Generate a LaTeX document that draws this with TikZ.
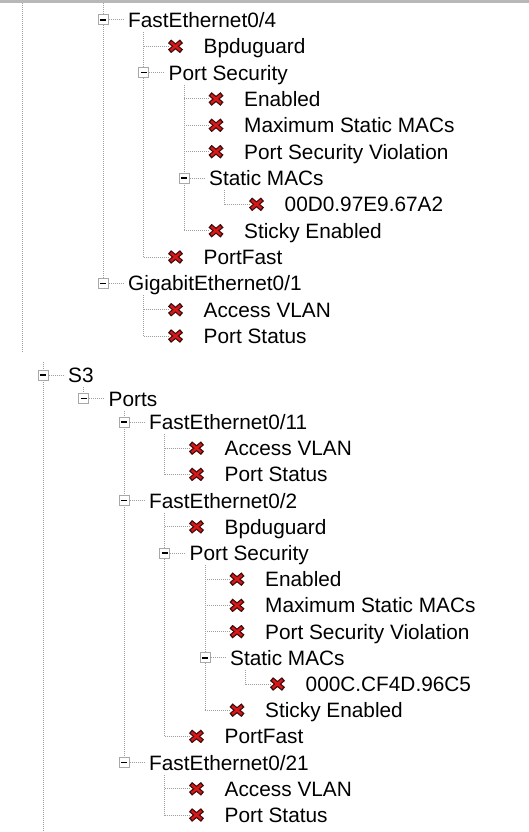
\documentclass[tikz,border=0pt]{standalone}
\usepackage{fontspec}
\setmainfont{Liberation Sans}
\definecolor{lncol}{HTML}{A0A0A0}
\definecolor{boxcol}{HTML}{A8A8A8}
\definecolor{xred}{HTML}{D81818}
\definecolor{xdark}{HTML}{3C0C0C}
\definecolor{barcol}{HTML}{B8B8B8}
\pgfdeclarelayer{back}
\pgfdeclarelayer{bg}
\pgfsetlayers{back,bg,main}
\tikzset{
  tline/.style={draw=lncol, line width=1pt, dash pattern=on 1pt off 1pt},
  tbox/.style={rectangle, draw=boxcol, line width=1pt, fill=white, minimum size=10pt, inner sep=0pt,
    path picture={\draw[black,line width=1.6pt] ([xshift=-3pt]path picture bounding box.center) -- ([xshift=3pt]path picture bounding box.center);}},
  lbl/.style={anchor=base west, inner sep=0pt, font=\fontsize{20.8}{24}\selectfont, text=black},
  xicon/.style={rectangle, minimum width=15pt, minimum height=13pt, inner sep=0pt,
    path picture={
      \draw[xdark, line width=4.8pt] ([shift={(1.5pt,-1.5pt)}]path picture bounding box.north west) -- ([shift={(-1.5pt,1.5pt)}]path picture bounding box.south east);
      \draw[xdark, line width=4.8pt] ([shift={(-1.5pt,-1.5pt)}]path picture bounding box.north east) -- ([shift={(1.5pt,1.5pt)}]path picture bounding box.south west);
      \draw[xred, line width=2.4pt] ([shift={(2.6pt,-2.4pt)}]path picture bounding box.north west) -- ([shift={(-2.6pt,2.4pt)}]path picture bounding box.south east);
      \draw[xred, line width=2.4pt] ([shift={(-2.6pt,-2.4pt)}]path picture bounding box.north east) -- ([shift={(2.6pt,2.4pt)}]path picture bounding box.south west);
    }}
}
\newcommand\Leaf[4]{%
  \coordinate (#1j) at (#2,#3);
  \node[xicon] (#1i) at (#2+32,#3) {};
  \node[lbl] (#1) at (#2+60,#3+7.5) {#4};
  \begin{pgfonlayer}{bg}\draw[tline] (#1j) -- (#1i.west);\end{pgfonlayer}
}
\newcommand\Branch[4]{%
  \node[tbox] (#1b) at (#2,#3) {};
  \node[lbl] (#1) at (#2+25,#3+7.5) {#4};
  \coordinate (#1e) at (#2+20,#3);
  \begin{pgfonlayer}{bg}\draw[tline] (#1b.east) -- (#1e);\end{pgfonlayer}
}
\begin{document}
\begin{tikzpicture}[x=1pt,y=-1pt]
\useasboundingbox (0,0) rectangle (529,832);
\begin{pgfonlayer}{back}
\fill[white] (0,0) rectangle (529,832);
\end{pgfonlayer}
% ---------- top section ----------
\Branch{FEa}{103}{20}{FastEthernet0/4}
\Leaf{BPa}{143.5}{46.3}{Bpduguard}
\Branch{PSa}{143.5}{72.7}{Port Security}
\Leaf{ENa}{184}{99}{Enabled}
\Leaf{MXa}{184}{125.3}{Maximum Static MACs}
\Leaf{PVa}{184}{151.7}{Port Security Violation}
\Branch{SMa}{184}{178}{Static MACs}
\Leaf{MCa}{224.5}{204.3}{00D0.97E9.67A2}
\Leaf{STa}{184}{230.7}{Sticky Enabled}
\Leaf{PFa}{143.5}{257}{PortFast}
\Branch{GEa}{103}{283.3}{GigabitEthernet0/1}
\Leaf{AVa}{143.5}{309.7}{Access VLAN}
\Leaf{PTa}{143.5}{336}{Port Status}
\coordinate (rootTop) at (22,3);
\coordinate (rootBot) at (22,352);
\coordinate (portsTop) at (103,3);
\begin{pgfonlayer}{bg}
\draw[tline] (rootTop) -- (rootBot);
\draw[tline] (portsTop) -- (GEab);
\draw[tline] ([shift={(40.5,12)}]FEab.center) -- (PFaj);
\draw[tline] ([shift={(40.5,12)}]PSab.center) -- (STaj);
\draw[tline] ([shift={(40.5,12)}]SMab.center) -- (MCaj);
\draw[tline] ([shift={(40.5,12)}]GEab.center) -- (PTaj);
\end{pgfonlayer}
\fill[barcol] (0,0) rectangle (529,3);
% ---------- bottom section ----------
\Branch{SThree}{43}{375}{S3}
\Branch{PO}{83.5}{398.5}{Ports}
\Branch{FEb}{124}{422}{FastEthernet0/11}
\Leaf{AVb}{164.5}{448.2}{Access VLAN}
\Leaf{PTb}{164.5}{474.4}{Port Status}
\Branch{FEc}{124}{500.6}{FastEthernet0/2}
\Leaf{BPc}{164.5}{526.8}{Bpduguard}
\Branch{PSc}{164.5}{553}{Port Security}
\Leaf{ENc}{205}{579.2}{Enabled}
\Leaf{MXc}{205}{605.4}{Maximum Static MACs}
\Leaf{PVc}{205}{631.6}{Port Security Violation}
\Branch{SMc}{205}{657.8}{Static MACs}
\Leaf{MCc}{245.5}{684}{000C.CF4D.96C5}
\Leaf{STc}{205}{710.2}{Sticky Enabled}
\Leaf{PFc}{164.5}{736.4}{PortFast}
\Branch{FEd}{124}{762.6}{FastEthernet0/21}
\Leaf{AVd}{164.5}{788.8}{Access VLAN}
\Leaf{PTd}{164.5}{815}{Port Status}
\coordinate (sTop) at (43,362);
\coordinate (sBot) at (43,832);
\begin{pgfonlayer}{bg}
\draw[tline] (sTop) -- (sBot);
\draw[tline] ([shift={(40.5,12)}]SThreeb.center) -- (POb);
\draw[tline] ([shift={(40.5,12)}]POb.center) -- (FEdb);
\draw[tline] ([shift={(40.5,12)}]FEbb.center) -- (PTbj);
\draw[tline] ([shift={(40.5,12)}]FEcb.center) -- (PFcj);
\draw[tline] ([shift={(40.5,12)}]PScb.center) -- (STcj);
\draw[tline] ([shift={(40.5,12)}]SMcb.center) -- (MCcj);
\draw[tline] ([shift={(40.5,12)}]FEdb.center) -- (PTdj);
\end{pgfonlayer}
\end{tikzpicture}
\end{document}
